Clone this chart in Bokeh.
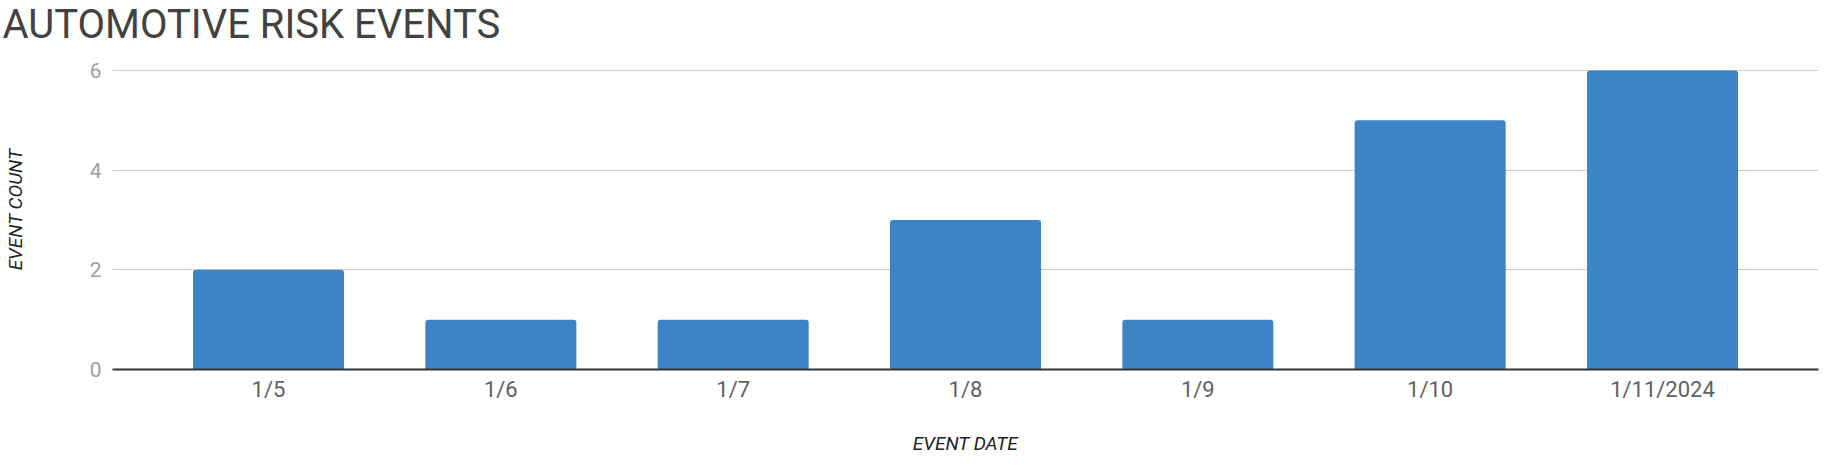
from bokeh.plotting import figure
from bokeh.models import FactorRange, Range1d, FixedTicker
from bokeh.embed import file_html
from bokeh.resources import INLINE

dates = ['1/5', '1/6', '1/7', '1/8', '1/9', '1/10', '1/11/2024']
counts = [2, 1, 1, 3, 1, 5, 6]
y_ticks = [0, 2, 4, 6]

FONT = 'Roboto'

# the frame reaches up to the title, so y runs a bit past the top gridline
p = figure(
    width=1842,
    height=466,
    x_range=FactorRange(factors=dates, range_padding=0.049),
    y_range=Range1d(0, 6.42),
    output_backend='svg',
    toolbar_location=None,
    min_border_left=111,
    min_border_right=24,
    min_border_bottom=97,
    min_border_top=0,
)

# Title
p.title.text = 'AUTOMOTIVE RISK EVENTS'
p.title.text_font = FONT
p.title.text_font_size = '40px'
p.title.text_font_style = 'normal'
p.title.text_color = '#424242'
p.title.align = 'left'
p.title.vertical_align = 'top'
p.title.offset = -110
p.title.standoff = 0

# Bars
p.vbar(x=dates, top=counts, width=0.65, fill_color='#3d84c6', line_color=None,
       border_radius=(3, 3, 0, 0))

# Y axis
p.yaxis.ticker = FixedTicker(ticks=y_ticks)
p.yaxis.axis_line_color = None
p.yaxis.major_tick_line_color = None
p.yaxis.major_tick_out = 0
p.yaxis.minor_tick_line_color = None
p.yaxis.major_label_text_font = FONT
p.yaxis.major_label_text_font_size = '21px'
p.yaxis.major_label_text_color = '#9e9e9e'
p.yaxis.major_label_standoff = 11
p.yaxis.axis_label = 'EVENT COUNT'
p.yaxis.axis_label_text_font = FONT
p.yaxis.axis_label_text_font_size = '19px'
p.yaxis.axis_label_text_font_style = 'italic'
p.yaxis.axis_label_text_color = '#222222'
p.yaxis.axis_label_standoff = 60

# X axis
p.xaxis.axis_line_color = '#333333'
p.xaxis.axis_line_width = 2
p.xaxis.major_tick_line_color = None
p.xaxis.major_tick_out = 0
p.xaxis.minor_tick_line_color = None
p.xaxis.major_label_text_font = FONT
p.xaxis.major_label_text_font_size = '22px'
p.xaxis.major_label_text_color = '#616161'
p.xaxis.major_label_standoff = 7
p.xaxis.axis_label = 'EVENT DATE'
p.xaxis.axis_label_text_font = FONT
p.xaxis.axis_label_text_font_size = '19px'
p.xaxis.axis_label_text_font_style = 'italic'
p.xaxis.axis_label_text_color = '#222222'
p.xaxis.axis_label_text_line_height = 0.9
p.xaxis.axis_label_standoff = 27

# Grid
p.xgrid.grid_line_color = None
p.ygrid.ticker = FixedTicker(ticks=y_ticks)
p.ygrid.grid_line_color = '#cccccc'
p.ygrid.grid_line_width = 1
p.outline_line_color = None

open('out.html', 'w').write(file_html(p, INLINE))
